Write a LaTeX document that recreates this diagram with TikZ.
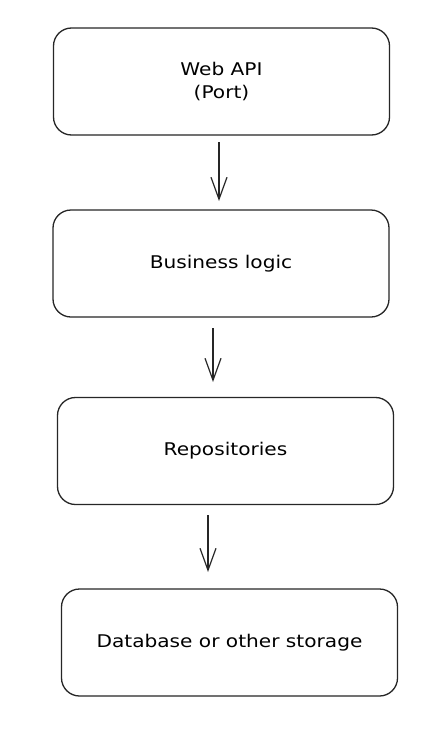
\documentclass[tikz,border=0pt]{standalone}
\usepackage{fontspec}
\setmainfont{DejaVu Sans}[FakeStretch=1.15]
\usepackage{tikz}
\usetikzlibrary{arrows.meta,positioning}
\tikzset{
  layer/.style={rectangle,rounded corners=18pt,draw=black!85,fill=white,line width=1.3pt,
    minimum width=336pt,minimum height=107pt,inner sep=0pt,font=\fontsize{17.5}{23}\selectfont,align=center},
  flow/.style={-{Straight Barb[length=22pt,width=16pt,line width=1.2pt]},line width=1.2pt,draw=black!85},
}

\begin{document}
\begin{tikzpicture}[x=1pt,y=-1pt]
\useasboundingbox (0,0) rectangle (440,736);
% the four layers, top to bottom
\node[layer] (api) at (221.5,81.5) {Web API\\(Port)};
\node[layer] (logic) at (221,263.5) {Business logic};
\node[layer] (repo) at (225.5,451) {Repositories};
\node[layer] (store) at (229.5,642.5) {Database or other storage};
% arrows between them, with a gap at both ends
\coordinate (f1a) at (219,142); \coordinate (f1b) at (219,201);
\coordinate (f2a) at (213,328); \coordinate (f2b) at (213,382);
\coordinate (f3a) at (208,515); \coordinate (f3b) at (208,572);
\draw[flow] (f1a) -- (f1b);
\draw[flow] (f2a) -- (f2b);
\draw[flow] (f3a) -- (f3b);
\end{tikzpicture}
\end{document}
